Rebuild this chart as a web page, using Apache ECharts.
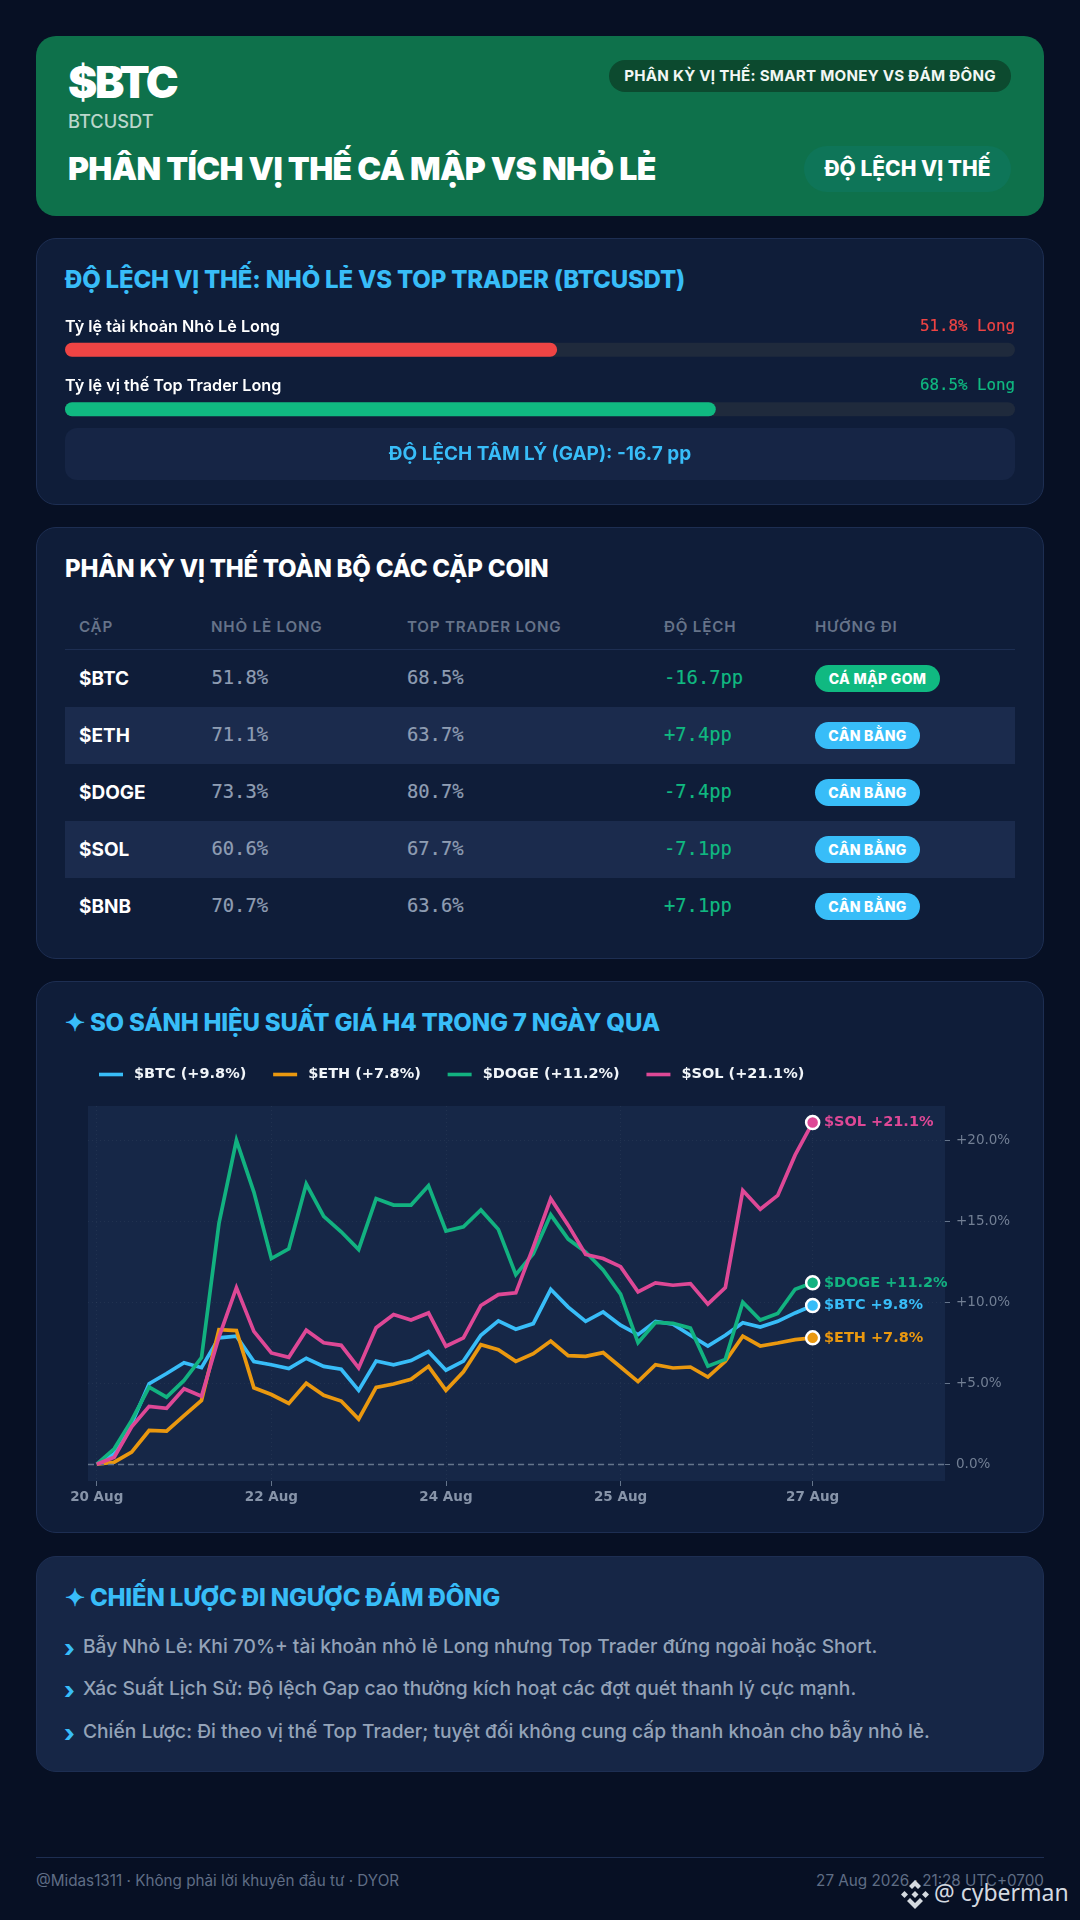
<!DOCTYPE html>
<html lang="vi"><head><meta charset="utf-8">
<script src="https://cdn.jsdelivr.net/npm/echarts@6/dist/echarts.min.js"></script>
<style>
*{box-sizing:border-box;margin:0;padding:0}
html,body{width:1080px;height:1920px;overflow:hidden;background:#071024;font-family:Inter,"Noto Sans",sans-serif;color:#fff}
.a{position:absolute;white-space:nowrap;line-height:1}
.c{position:absolute;left:36px;width:1008px;border-radius:20px;background:#0f1d39;border:1px solid #1d2e52}
.mono{font-family:"DejaVu Sans Mono",monospace;-webkit-text-stroke:.2px currentColor}
.blue{color:#38bdf8}
.pill{border-radius:14px;text-align:center;font-weight:800;color:#fff;font-size:14px;height:27px;line-height:27px;letter-spacing:.3px}
.ttl{font-size:24px;font-weight:800;letter-spacing:-.18px}
</style></head><body>
<div class="c" style="top:36px;height:180px;background:#0e714b;border:none"></div>
<div class="a" style="left:68px;top:60px;font-size:44px;font-weight:900;letter-spacing:-2.4px">$BTC</div>
<div class="a" style="left:68px;top:112px;font-size:18.3px;font-weight:500;color:rgba(255,255,255,.72)">BTCUSDT</div>
<div class="a" style="left:68px;top:153px;font-size:32px;font-weight:900;letter-spacing:-.64px">PHÂN TÍCH VỊ THẾ CÁ MẬP VS NHỎ LẺ</div>
<div class="a" style="left:609px;top:60px;width:402px;height:32px;border-radius:16px;background:#0c4a2f;text-align:center;line-height:32px;font-size:15.15px;font-weight:700;letter-spacing:.25px;color:#f2f7f4">PHÂN KỲ VỊ THẾ: SMART MONEY VS ĐÁM ĐÔNG</div>
<div class="a" style="left:804px;top:146px;width:207px;height:46px;border-radius:23px;background:#0e7558;text-align:center;line-height:46px;font-size:21px;font-weight:800">ĐỘ LỆCH VỊ THẾ</div>

<div class="c" style="top:238px;height:267px"></div>
<div class="a blue ttl" style="left:65px;top:268px">ĐỘ LỆCH VỊ THẾ: NHỎ LẺ VS TOP TRADER (BTCUSDT)</div>
<div id="bars" class="a" style="left:65px;top:320px;width:950px;height:119px"></div>
<div id="barText"></div>
<div class="a" style="left:65px;top:428px;width:950px;height:52px;border-radius:12px;background:#162545"></div>
<div class="a blue" style="left:65px;top:444px;width:950px;text-align:center;font-size:19px;font-weight:700">ĐỘ LỆCH TÂM LÝ (GAP): -16.7 pp</div>

<div class="c" style="top:527px;height:432px"></div>
<div class="a ttl" style="left:65px;top:557px;letter-spacing:-.24px">PHÂN KỲ VỊ THẾ TOÀN BỘ CÁC CẶP COIN</div>
<div class="a" style="left:65px;top:649px;width:950px;height:1px;background:#1d2e52"></div>
<div id="table"></div>

<div class="c" style="top:981px;height:552px"></div>
<div class="a blue ttl" style="left:65px;top:1011px">✦ SO SÁNH HIỆU SUẤT GIÁ H4 TRONG 7 NGÀY QUA</div>
<div id="chart" class="a" style="left:36px;top:1040px;width:1008px;height:480px"></div>

<div class="c" style="top:1556px;height:216px;background:#162646"></div>
<div class="a blue ttl" style="left:65px;top:1586px">✦ CHIẾN LƯỢC ĐI NGƯỢC ĐÁM ĐÔNG</div>
<div id="notes"></div>

<div class="a" style="left:36px;top:1857px;width:1008px;height:1px;background:#1d2e52"></div>
<div class="a" style="left:36px;top:1873px;font-size:15.25px;color:#5f6d85">@Midas1311 · Không phải lời khuyên đầu tư · DYOR</div>
<div class="a" style="right:36px;top:1873px;font-size:15.25px;color:#5f6d85">27 Aug 2026 · 21:28 UTC+0700</div>
<svg class="a" style="left:901px;top:1880px" width="28" height="29" viewBox="0 0 28 29" fill="#d5dae0">
<path d="M14 0l6 6-3 3-3-3-3 3-3-3z"/><path d="M14 11l3.5 3.5L14 18l-3.5-3.5z"/><path d="M3.5 11L7 14.500 3.500 18 0 14.500z"/><path d="M24.500 11L28 14.500 24.500 18 21 14.500z"/><path d="M14 29l-8-8 3-3 5 5 5-5 3 3z"/></svg>
<div class="a" style="left:934px;top:1881px;font-size:23px;color:#d5dae0;font-family:'Noto Sans'">@ cyberman</div>

<script>
// Long ratio bars
const barLabels = ['Tỷ lệ tài khoản Nhỏ Lẻ Long', 'Tỷ lệ vị thế Top Trader Long'];
const barValues = [51.8, 68.5];
const barColors = ['#ef4444', '#10b981'];

// Table
const pairs = ['$BTC', '$ETH', '$DOGE', '$SOL', '$BNB'];
const retailLong = ['51.8%', '71.1%', '73.3%', '60.6%', '70.7%'];
const topLong = ['68.5%', '63.7%', '80.7%', '67.7%', '63.6%'];
const gaps = ['-16.7pp', '+7.4pp', '-7.4pp', '-7.1pp', '+7.1pp'];
const directions = ['CÁ MẬP GOM', 'CÂN BẰNG', 'CÂN BẰNG', 'CÂN BẰNG', 'CÂN BẰNG'];
const tableHead = ['CẶP', 'NHỎ LẺ LONG', 'TOP TRADER LONG', 'ĐỘ LỆCH', 'HƯỚNG ĐI'];

// Performance, % change per H4 candle
const btc = [0,0.64,2.5,4.97,5.6,6.27,5.96,7.8,7.9,6.33,6.14,5.9,6.54,6.04,5.86,4.56,6.37,6.14,6.4,6.95,5.8,6.37,7.96,8.85,8.33,8.68,10.8,9.7,8.82,9.4,8.58,8.0,8.82,8.64,7.96,7.3,7.96,8.74,8.47,8.82,9.34,9.8];
const eth = [0,0.12,0.74,2.08,2.04,3.0,3.94,8.3,8.25,4.72,4.3,3.75,5.0,4.25,3.9,2.78,4.74,4.95,5.24,6.04,4.56,5.7,7.38,7.07,6.35,6.82,7.6,6.7,6.66,6.89,6.0,5.1,6.14,5.94,6.0,5.38,6.35,7.9,7.3,7.48,7.69,7.8];
const doge = [0,0.95,2.7,4.76,4.14,5.17,6.58,14.87,20.0,16.8,12.7,13.3,17.3,15.3,14.35,13.26,16.4,16.0,16.0,17.2,14.4,14.66,15.7,14.5,11.7,13.0,15.4,13.9,13.1,12.0,10.5,7.5,8.75,8.7,8.4,6.05,6.47,10.0,8.9,9.3,10.8,11.2];
const sol = [0,0.43,2.3,3.57,3.45,4.66,4.2,7.85,10.9,8.2,6.87,6.6,8.27,7.5,7.34,5.94,8.43,9.24,8.9,9.34,7.28,7.8,9.8,10.47,10.58,13.4,16.4,14.76,12.95,12.7,12.2,10.64,11.2,11.05,11.15,9.88,10.9,16.9,15.75,16.6,19.1,21.1];
const seriesNames = ['$BTC', '$ETH', '$DOGE', '$SOL'];
const seriesFinal = ['+9.8%', '+7.8%', '+11.2%', '+21.1%'];
const seriesColors = ['#38bdf8', '#ea980f', '#12b280', '#de4896'];
const xTickIndex = [0, 10, 20, 30, 41];
const xTickLabels = ['20 Aug', '22 Aug', '24 Aug', '25 Aug', '27 Aug'];
const yTicks = [0, 5, 10, 15, 20];

// Strategy notes
const notes = [
  'Bẫy Nhỏ Lẻ: Khi 70%+ tài khoản nhỏ lẻ Long nhưng Top Trader đứng ngoài hoặc Short.',
  'Xác Suất Lịch Sử: Độ lệch Gap cao thường kích hoạt các đợt quét thanh lý cực mạnh.',
  'Chiến Lược: Đi theo vị thế Top Trader; tuyệt đối không cung cấp thanh khoản cho bẫy nhỏ lẻ.'
];

function put(parent, html, css) {
  const d = document.createElement('div');
  d.className = 'a ' + (css.cls || '');
  d.textContent = html;
  Object.assign(d.style, css.style);
  parent.appendChild(d);
}

const bt = document.getElementById('barText');
barLabels.forEach((t, i) => {
  const top = 318 + i * 59;
  put(bt, t, {style: {left: '65px', top: top + 'px', fontSize: '16.2px', fontWeight: 600, zIndex: 3}});
  put(bt, barValues[i].toFixed(1) + '% Long', {cls: 'mono', style: {right: '65px', top: top + 'px', fontSize: '15.8px', color: barColors[i], zIndex: 3}});
});

const tb = document.getElementById('table');
const cols = [79, 211, 407, 664, 815];
tableHead.forEach((t, i) => put(tb, t, {style: {left: cols[i] + 'px', top: '618.5px', fontSize: '15.2px', fontWeight: 600, letterSpacing: '.8px', color: '#667389'}}));
pairs.forEach((p, i) => {
  const top = 650 + i * 57, mid = top + 28.5;
  if (i % 2 === 1) {
    const r = document.createElement('div');
    r.className = 'a';
    Object.assign(r.style, {left: '65px', top: top + 'px', width: '950px', height: '57px', background: '#1b2b4d'});
    tb.appendChild(r);
  }
  put(tb, p, {style: {left: cols[0] + 'px', top: (mid - 10) + 'px', fontSize: '19px', fontWeight: 700}});
  put(tb, retailLong[i], {cls: 'mono', style: {left: (cols[1] + 0.5) + 'px', top: (mid - 10) + 'px', fontSize: '18.8px', color: '#8f9db3'}});
  put(tb, topLong[i], {cls: 'mono', style: {left: cols[2] + 'px', top: (mid - 10) + 'px', fontSize: '18.8px', color: '#8f9db3'}});
  put(tb, gaps[i], {cls: 'mono', style: {left: cols[3] + 'px', top: (mid - 10) + 'px', fontSize: '18.8px', color: '#10b981'}});
  const gom = directions[i] !== 'CÂN BẰNG';
  put(tb, directions[i], {cls: 'pill', style: {left: cols[4] + 'px', top: (mid - 13.5) + 'px', lineHeight: '27px', width: (gom ? 125 : 105) + 'px', background: gom ? '#10b981' : '#38bdf8'}});
});

const nt = document.getElementById('notes');
notes.forEach((t, i) => {
  const top = [1637, 1679, 1722][i];
  put(nt, '›', {style: {left: '64px', top: (top - 0.5) + 'px', fontSize: '24px', fontWeight: 800, color: '#38bdf8'}});
  put(nt, t, {style: {left: '83px', top: top + 'px', fontSize: '19.2px', fontWeight: 500, color: '#94a3b8'}});
});

const barChart = echarts.init(document.getElementById('bars'), null, {renderer: 'canvas'});
barChart.setOption({
  animation: false,
  grid: {left: 0, right: 0, top: 0, bottom: 0},
  xAxis: {type: 'value', min: 0, max: 100, show: false},
  yAxis: {type: 'category', inverse: true, data: barLabels, show: false},
  series: [{
    type: 'bar', barWidth: 14, showBackground: true,
    backgroundStyle: {color: '#1f2a3c', borderRadius: 7},
    itemStyle: {borderRadius: 7},
    data: barValues.map((v, i) => ({value: v, itemStyle: {color: barColors[i]}}))
  }]
});

const chart = echarts.init(document.getElementById('chart'), null, {renderer: 'canvas'});
const lines = [btc, eth, doge, sol].map((vals, s) => ({
  type: 'line', name: seriesNames[s] + ' (' + seriesFinal[s] + ')',
  showSymbol: true, symbol: 'none', z: 3 + s,
  lineStyle: {width: 3.7, color: seriesColors[s], join: 'miter', miterLimit: 4},
  itemStyle: {color: seriesColors[s]},
  data: vals.map((v, i) => i === vals.length - 1 ? {
    value: [i, v], symbol: 'circle', symbolSize: 13,
    itemStyle: {color: seriesColors[s], borderColor: '#fff', borderWidth: 2.5},
    label: {show: true, position: 'right', distance: 3.5, padding: [4, 0, 0, 0], formatter: seriesNames[s] + ' ' + seriesFinal[s],
      color: seriesColors[s], fontFamily: 'DejaVu Sans', fontWeight: 'bold', fontSize: 14.5}
  } : [i, v])
}));
lines[0].markLine = {silent: true, symbol: 'none', label: {show: false}, animation: false,
  lineStyle: {color: '#64748b', type: [6, 4], width: 1.3}, data: [{yAxis: 0}]};
chart.setOption({
  animation: false,
  backgroundColor: 'transparent',
  legend: {
    left: 58, top: 22, itemWidth: 24, itemHeight: 3.6, itemGap: 26.8, icon: 'rect',
    textStyle: {color: '#f1f5f9', fontFamily: 'DejaVu Sans', fontWeight: 'bold', fontSize: 14.5, padding: [0, 0, 0, 6]},
    data: lines.map(l => l.name)
  },
  grid: {left: 52, top: 66, width: 857, height: 375, backgroundColor: '#162747', show: true, borderWidth: 0},
  xAxis: {
    type: 'value', min: -0.5, max: 48.58,
    axisLine: {show: false, onZero: false},
    axisTick: {show: true, length: 5, customValues: xTickIndex, lineStyle: {color: '#64748b', width: 1}},
    axisLabel: {customValues: xTickIndex, formatter: v => xTickLabels[xTickIndex.indexOf(v)] || '',
      color: '#8794a9', fontFamily: 'DejaVu Sans', fontWeight: 'bold', fontSize: 13.5, margin: 9},
    splitLine: {show: true, lineStyle: {color: 'rgba(255,255,255,.05)', type: [1, 3]}}
  },
  yAxis: {
    type: 'value', position: 'right', min: -1.04, max: 22.12,
    axisLine: {show: false, onZero: false},
    axisTick: {show: true, length: 5, customValues: yTicks, lineStyle: {color: '#64748b', width: 1}},
    axisLabel: {customValues: yTicks, formatter: v => v === 0 ? '0.0%' : '+' + v.toFixed(1) + '%',
      color: '#727f94', fontFamily: 'DejaVu Sans', fontSize: 13.5, margin: 11, padding: [6, 0, 0, 0]},
    splitLine: {show: true, lineStyle: {color: 'rgba(255,255,255,.05)', type: [1, 3]}}
  },
  series: lines
});
</script>
</body></html>
